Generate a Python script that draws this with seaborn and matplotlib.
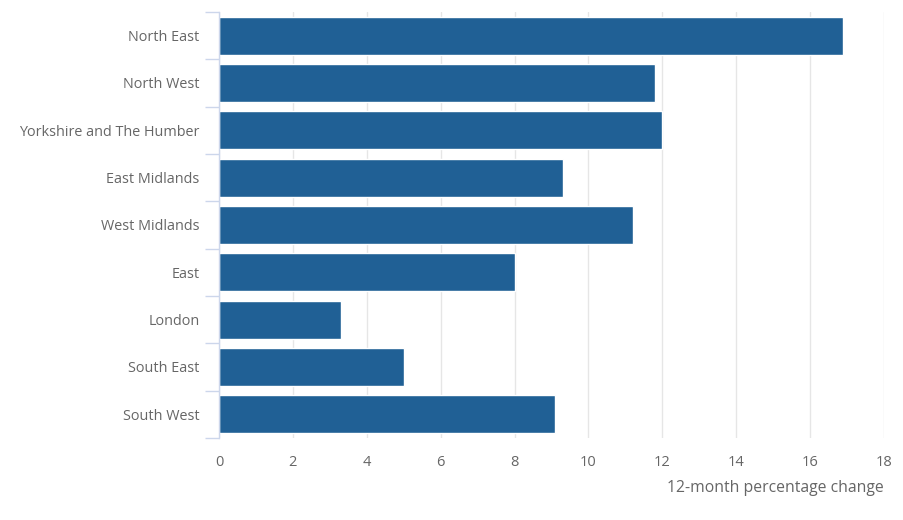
import seaborn as sns
import pandas as pd
import matplotlib.pyplot as plt
from matplotlib.ticker import FixedLocator

regions = ['North East', 'North West', 'Yorkshire and The Humber', 'East Midlands',
           'West Midlands', 'East', 'London', 'South East', 'South West']
change = [16.9, 11.8, 12.0, 9.3, 11.2, 8.0, 3.3, 5.0, 9.1]

df = pd.DataFrame({'region': regions, 'change': change})

sns.set_style('white')
plt.rcParams['font.family'] = ['Open Sans', 'DejaVu Sans']

fig = plt.figure(figsize=(9.04, 5.2), dpi=100)
ax = fig.add_axes([219 / 904, 1 - 438 / 520, (884 - 219) / 904, (438 - 12) / 520])

sns.barplot(data=df, x='change', y='region', orient='h', color='#206095',
            saturation=1, width=0.8, ax=ax)

ax.set_xlim(0, 18)
ax.set_ylim(8.5, -0.5)
ax.set_xticks(range(0, 19, 2))
ax.xaxis.grid(True, color='#e6e6e6', linewidth=1)
ax.set_axisbelow(True)

for s in ['top', 'right', 'bottom']:
    ax.spines[s].set_visible(False)
ax.spines['left'].set_color('#ccd6eb')
ax.spines['left'].set_linewidth(1)

ax.tick_params(axis='x', length=0, labelsize=10.5, labelcolor='#666666', pad=12)
ax.tick_params(axis='y', which='major', left=False, length=0, labelsize=10.4,
               labelcolor='#666666', pad=14)
ax.yaxis.set_minor_locator(FixedLocator([i - 0.5 for i in range(10)]))
ax.tick_params(axis='y', which='minor', left=True, length=10, color='#ccd6eb', width=1)

ax.set_ylabel('')
ax.set_xlabel('12-month percentage change', fontsize=11.3, color='#666666')
ax.xaxis.set_label_coords(1.0, -0.098)
ax.xaxis.label.set_horizontalalignment('right')

fig.savefig('out.png', dpi=100)
